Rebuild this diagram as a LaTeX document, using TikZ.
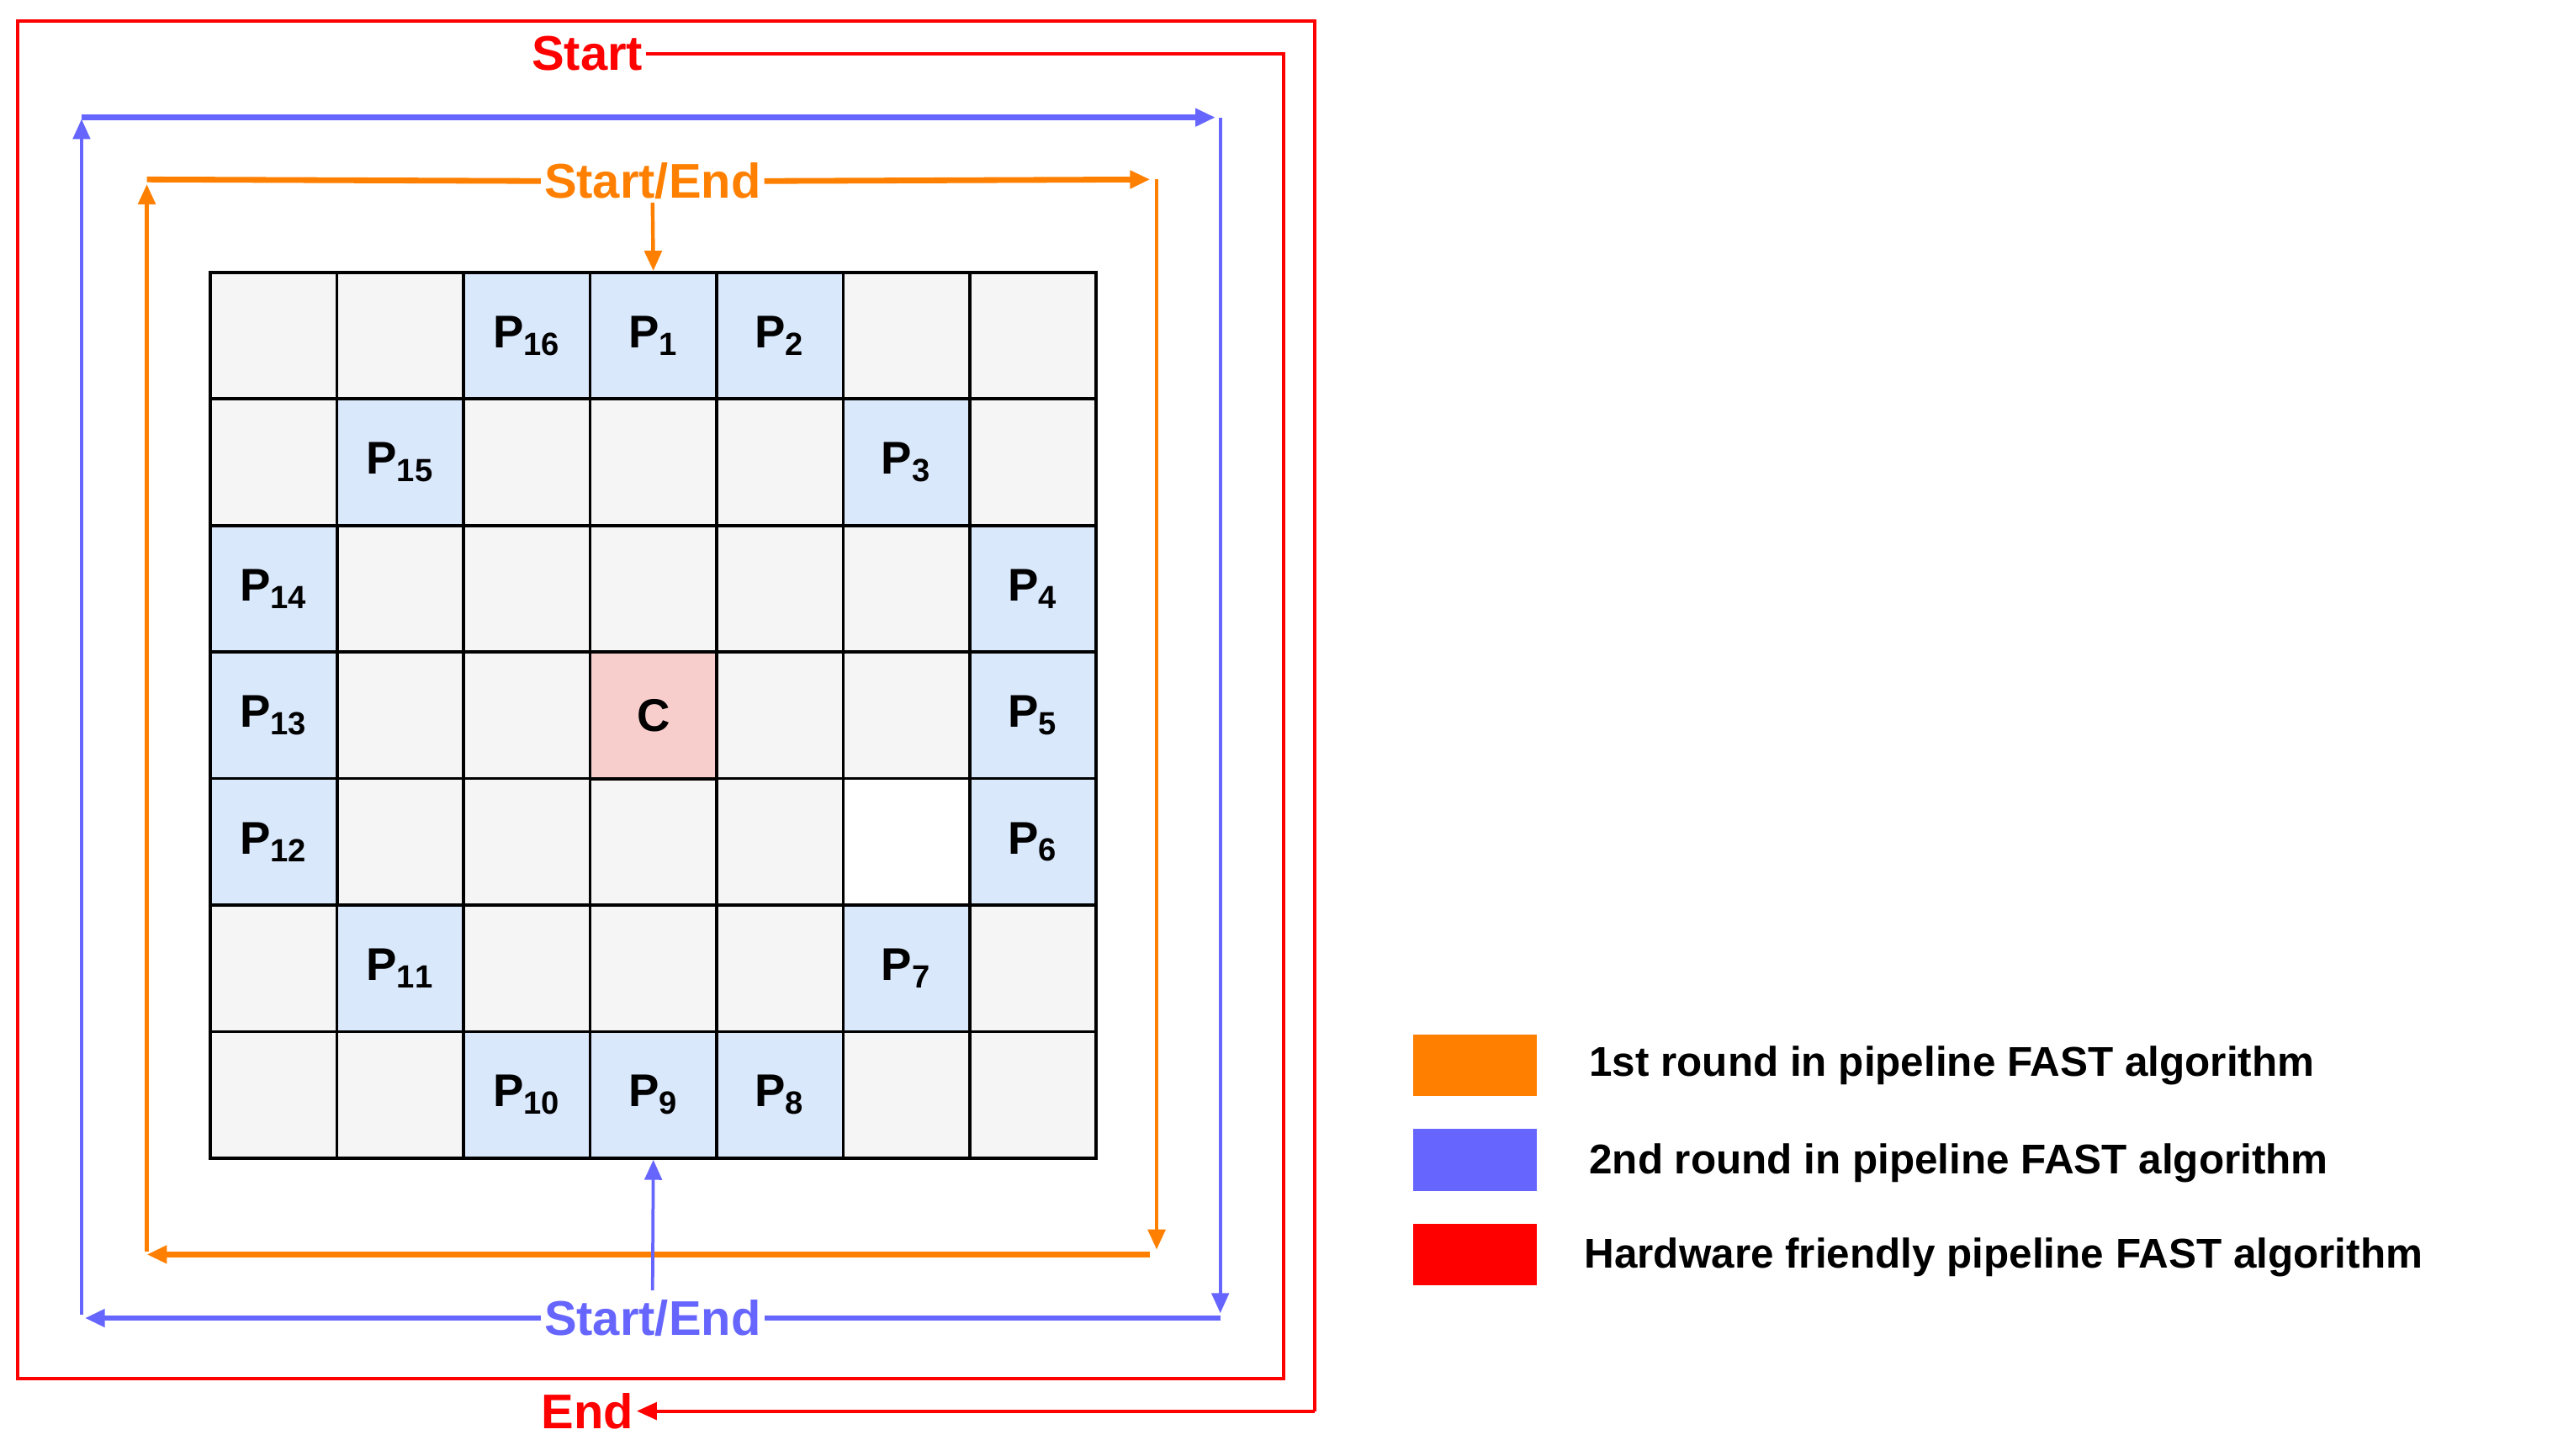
\documentclass[tikz,border=0pt]{standalone}
\usepackage{fontspec}
\setmainfont{Liberation Sans}
\usetikzlibrary{arrows.meta}
\definecolor{cor}{HTML}{FF8000}
\definecolor{cbl}{HTML}{6666FF}
\definecolor{crd}{HTML}{FF0000}
\definecolor{cgr}{HTML}{F5F5F5}
\definecolor{clb}{HTML}{DAE8FC}
\definecolor{cpk}{HTML}{F8CECC}
\tikzset{x=0.02cm,y=-0.02cm,
 cell/.style={draw=black,line width=1.1pt,minimum width=1.552cm,minimum height=1.552cm,inner sep=0pt,font=\bfseries\fontsize{16}{18}\selectfont},
 lbl/.style={font=\bfseries\fontsize{17}{20}\selectfont,inner sep=1pt},
 arr/.style={-{Triangle[length=7pt,width=6pt]}},
 leg/.style={minimum width=1.52cm,minimum height=0.76cm,inner sep=0pt},
 legt/.style={anchor=west,font=\bfseries\fontsize{14.5}{17}\selectfont}}
\begin{document}
\begin{tikzpicture}
\useasboundingbox (0,0) rectangle (1568,892.5);
% grid
\foreach \r in {0,...,6}{\foreach \c in {0,...,6}{
 \node[cell,fill=cgr] (g\r\c) at ({129+77.57*(\c+0.5)},{167+77.57*(\r+0.5)}) {};}}
\foreach \r/\c/\t in {0/2/16,0/3/1,0/4/2,1/1/15,1/5/3,2/0/14,2/6/4,3/0/13,3/6/5,4/0/12,4/6/6,5/1/11,5/5/7,6/2/10,6/3/9,6/4/8}{
 \node[cell,fill=clb] at (g\r\c) {P$_{\mathbf{\t}}$};}
\node[cell,fill=cpk] at (g33) {C};
\node[cell,fill=white] at (g45) {};
% red
\node[lbl,text=crd] (rs) at (360,33) {Start};
\node[lbl,text=crd] (re) at (360,865) {End};
\coordinate (r1) at (787,33);
\draw[crd,line width=1.2pt] (rs.east) -- (r1) -- (787,845) -- (11,845) -- (11,13) -- (806,13) -- (806,865) coordinate (r2);
\draw[crd,line width=1.2pt,arr] (r2) -- (re.east);
% orange
\node[lbl,text=cor] (os) at (400,111) {Start/End};
\draw[cor,line width=1.3pt,arr] (os.south) -- (g03.north);
\coordinate (o1) at (90,110); \coordinate (o2) at (705,110);
\coordinate (o3) at (709,110); \coordinate (o4) at (709,766);
\coordinate (o5) at (705,769); \coordinate (o6) at (90,769);
\coordinate (o7) at (90,767); \coordinate (o8) at (90,113);
\draw[cor,line width=2pt] (os.west) -- (o1);
\draw[cor,line width=2pt,arr] (os.east) -- (o2);
\draw[cor,line width=1.3pt,arr] (o3) -- (o4);
\draw[cor,line width=2pt,arr] (o5) -- (o6);
\draw[cor,line width=1.3pt,arr] (o7) -- (o8);
% blue
\node[lbl,text=cbl] (bs) at (400,808) {Start/End};
\draw[cbl,line width=1.1pt,arr] (400,791) -- (g63.south);
\coordinate (b1) at (50,808); \coordinate (b2) at (50,806);
\coordinate (b3) at (50,72); \coordinate (b4) at (745,72);
\coordinate (b5) at (748,72); \coordinate (b6) at (748,805);
\coordinate (b7) at (748,808);
\draw[cbl,line width=2pt,arr] (bs.west) -- (52,808);
\draw[cbl,line width=1.1pt,arr] (b2) -- (50,73);
\draw[cbl,line width=2pt,arr] (b3) -- (b4);
\draw[cbl,line width=1.1pt,arr] (b5) -- (b6);
\draw[cbl,line width=2pt] (b7) -- (bs.east);
% legend
\node[leg,fill=cor] (l1) at (904,653) {};
\node[leg,fill=cbl] (l2) at (904,711) {};
\node[leg,fill=crd] (l3) at (904,769) {};
\node[legt] at (968,653) {1st round in pipeline FAST algorithm};
\node[legt] at (968,713) {2nd round in pipeline FAST algorithm};
\node[legt] at (965,771) {Hardware friendly pipeline FAST algorithm};
\end{tikzpicture}
\end{document}
